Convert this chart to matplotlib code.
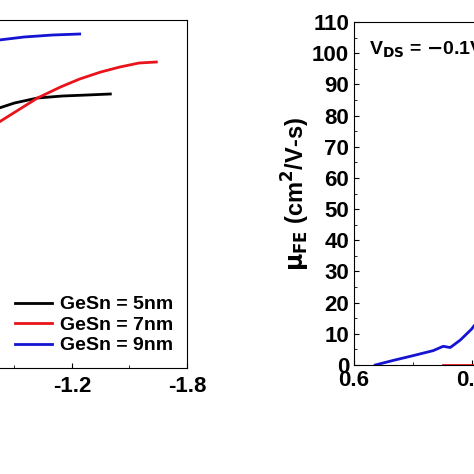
import matplotlib

matplotlib.use("Agg")
import matplotlib.pyplot as plt
from matplotlib.ticker import MultipleLocator

plt.rcParams["font.family"] = ["Liberation Sans", "DejaVu Sans"]
plt.rcParams["font.weight"] = "bold"

# left panel (arbitrary y units, axis labels are off-canvas)
v5 = [-0.82, -0.90, -1.02, -1.15, -1.28, -1.40]
c5 = [260, 265, 270, 272, 273, 274]
v7 = [-0.82, -0.92, -1.02, -1.14, -1.24, -1.35, -1.45, -1.55, -1.64]
c7 = [246, 258, 270, 281, 289, 296, 301, 305, 306]
v9 = [-0.82, -0.95, -1.10, -1.24]
c9 = [328, 331, 333, 334]

# right panel
vg_blue = [0.636, 0.667, 0.700, 0.734, 0.751, 0.763, 0.780, 0.799, 0.803]
mu_blue = [0.0, 1.5, 3.0, 4.6, 6.0, 5.6, 8.0, 11.5, 12.5]
vg_red = [0.751, 0.803]
mu_red = [0.0, 0.0]

fig = plt.figure(figsize=(4.74, 4.74), dpi=100)
W = H = 474.0

ax1 = fig.add_axes([-43 / W, (H - 368) / H, (187 + 43) / W, 348 / H])
ax1.plot(v5, c5, color="black", lw=2, label="GeSn = 5nm")
ax1.plot(v7, c7, color="#e8141b", lw=2, label="GeSn = 7nm")
ax1.plot(v9, c9, color="#1414d2", lw=2, label="GeSn = 9nm")
ax1.set_xlim(-0.6, -1.8)
ax1.set_ylim(0, 348)
ax1.set_xticks([-0.6, -1.2, -1.8])
ax1.set_xticklabels(["", "-1.2", "-1.8"], fontsize=16, fontweight="bold")
ax1.xaxis.set_minor_locator(MultipleLocator(0.3))
ax1.set_yticks([])
ax1.tick_params(direction="in", which="both", pad=6)
ax1.legend(loc="lower right", frameon=False, handlelength=1.9, handletextpad=0.4,
           labelspacing=0.15, borderaxespad=0.3, prop={"weight": "bold", "size": 14})

ax2 = fig.add_axes([354 / W, (H - 365) / H, 300 / W, 343 / H])
ax2.plot(vg_blue, mu_blue, color="#1414d2", lw=2)
ax2.plot(vg_red, mu_red, color="#e8141b", lw=2)
ax2.set_xlim(0.6, 1.108)
ax2.set_ylim(0, 110)
ax2.set_xticks([0.6, 0.8, 1.0])
ax2.set_xticklabels(["0.6", "0.8", "1.0"], fontsize=16, fontweight="bold")
ax2.xaxis.set_minor_locator(MultipleLocator(0.1))
ax2.set_yticks(range(0, 111, 10))
ax2.yaxis.set_minor_locator(MultipleLocator(5))
ax2.tick_params(direction="in", which="both", labelsize=16)
for lab in ax2.get_yticklabels():
    lab.set_fontweight("bold")
ax2.set_ylabel(r"$\mathbf{\mu_{FE}}$ (cm$^\mathbf{2}$/V-s)", fontsize=17, fontweight="bold", labelpad=0)
ax2.text(0.625, 101, r"V$_\mathbf{DS}$ = $-$0.1V", fontsize=14, fontweight="bold", va="center")

fig.savefig("out.png", dpi=100)
